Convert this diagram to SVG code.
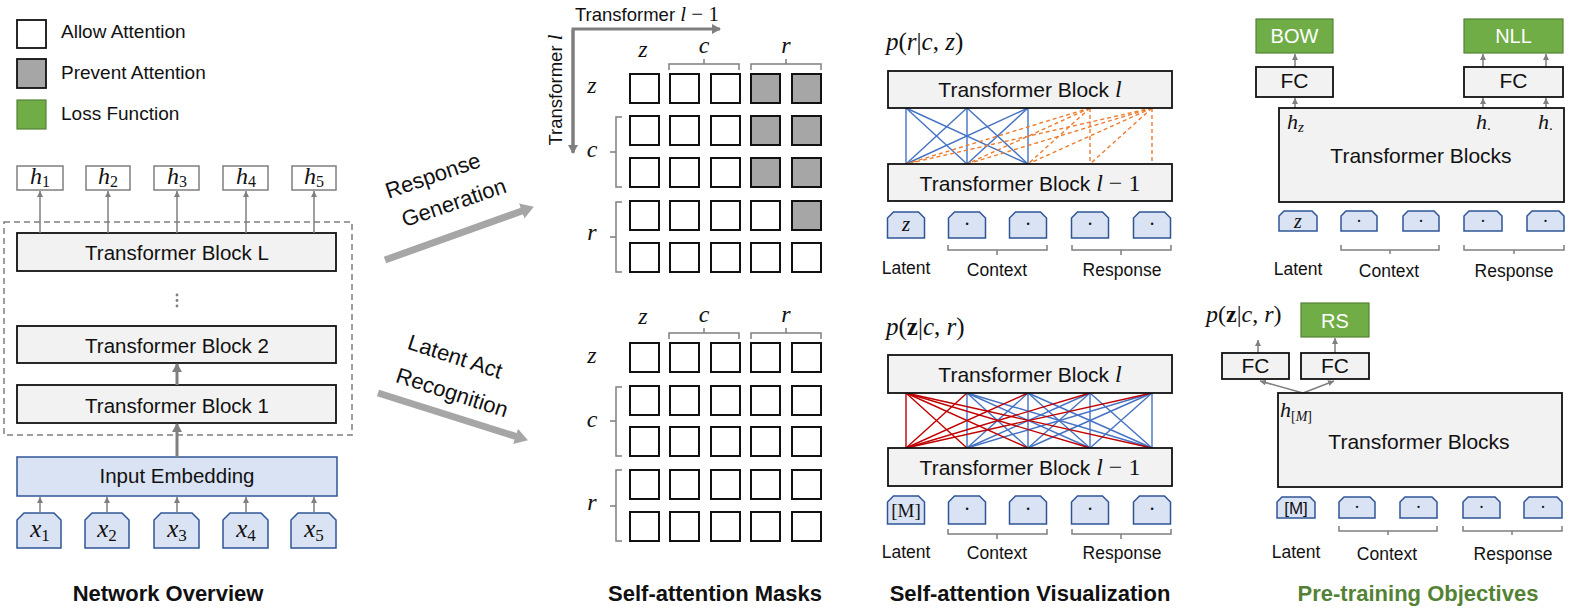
<svg xmlns="http://www.w3.org/2000/svg" width="1578" height="610" viewBox="0 0 1578 610">
<style>
.sans{font-family:"Liberation Sans",Arial,sans-serif;fill:#111}
.bold{font-weight:bold}
.math{font-family:"Liberation Serif","Times New Roman",serif;fill:#111}
.it{font-style:italic}
.blk{fill:#f2f2f2;stroke:#111;stroke-width:1.8}
.tok{fill:#dae3f3;stroke:#2f5597;stroke-width:1.5}
.cell{fill:#fff;stroke:#111;stroke-width:2}
.gray{fill:#a6a6a6}
.hb{fill:#fff;stroke:#7f7f7f;stroke-width:1.5}
.brk{fill:none;stroke:#7f7f7f;stroke-width:1.5}
.green{fill:#70ad47;stroke:#548235;stroke-width:1.2}
.wt{fill:#fff}
.arr{stroke:#7f7f7f;stroke-width:1.5;fill:none;marker-end:url(#ahs)}
.arrm{stroke:#7f7f7f;stroke-width:3;fill:none;marker-end:url(#ahm)}
.big{stroke:#a6a6a6;stroke-width:7;fill:none;marker-end:url(#ahb)}
.bl{stroke:#4472c4;stroke-width:1.4}
.rd{stroke:#c00000;stroke-width:1.4}
.or{stroke:#ed7d31;stroke-width:1.4;stroke-dasharray:4 3}
</style>
<defs>
<marker id="ahs" markerUnits="userSpaceOnUse" markerWidth="8" markerHeight="8" refX="6" refY="3" orient="auto"><path d="M0,0 L6,3 L0,6 z" fill="#7f7f7f"/></marker>
<marker id="ahm" markerUnits="userSpaceOnUse" markerWidth="12" markerHeight="12" refX="8" refY="5" orient="auto"><path d="M0,0 L9,5 L0,10 z" fill="#7f7f7f"/></marker>
<marker id="ahb" markerUnits="userSpaceOnUse" markerWidth="16" markerHeight="18" refX="1" refY="8" orient="auto"><path d="M0,0 L13,8 L0,16 z" fill="#a6a6a6"/></marker>
</defs>

<!-- Legend -->
<g id="legend">
<rect x="17" y="20" width="29" height="28" fill="#fff" stroke="#111" stroke-width="1.8"/>
<rect x="17" y="59" width="29" height="29" fill="#a6a6a6" stroke="#111" stroke-width="1.8"/>
<rect x="17" y="100" width="29" height="29" class="green"/>
<text x="61" y="38" class="sans" font-size="19">Allow Attention</text>
<text x="61" y="79" class="sans" font-size="19">Prevent Attention</text>
<text x="61" y="120" class="sans" font-size="19">Loss Function</text>
</g>

<!-- Network overview -->
<g id="network-overview">
<rect x="4" y="222" width="348" height="213" fill="none" stroke="#7f7f7f" stroke-width="1.5" stroke-dasharray="6 4"/>
<g id="h-outputs">
<rect x="17" y="166" width="46" height="24" class="hb"/>
<rect x="86" y="166" width="44" height="24" class="hb"/>
<rect x="154" y="166" width="45" height="24" class="hb"/>
<rect x="223" y="166" width="45" height="24" class="hb"/>
<rect x="292" y="166" width="44" height="24" class="hb"/>
<text x="40" y="184" class="math" font-size="24" text-anchor="middle"><tspan class="it">h</tspan><tspan font-size="16" dy="3">1</tspan></text>
<text x="108" y="184" class="math" font-size="24" text-anchor="middle"><tspan class="it">h</tspan><tspan font-size="16" dy="3">2</tspan></text>
<text x="177" y="184" class="math" font-size="24" text-anchor="middle"><tspan class="it">h</tspan><tspan font-size="16" dy="3">3</tspan></text>
<text x="246" y="184" class="math" font-size="24" text-anchor="middle"><tspan class="it">h</tspan><tspan font-size="16" dy="3">4</tspan></text>
<text x="314" y="184" class="math" font-size="24" text-anchor="middle"><tspan class="it">h</tspan><tspan font-size="16" dy="3">5</tspan></text>
</g>
<g id="block-L"><rect x="17" y="233" width="319" height="38" class="blk"/><text x="177" y="260" class="sans" font-size="20.5" text-anchor="middle">Transformer Block L</text></g>
<g id="vdots" fill="#7f7f7f"><circle cx="177" cy="295" r="1.4"/><circle cx="177" cy="300.5" r="1.4"/><circle cx="177" cy="306" r="1.4"/></g>
<g id="block-2"><rect x="17" y="326" width="319" height="37" class="blk"/><text x="177" y="353" class="sans" font-size="20.5" text-anchor="middle">Transformer Block 2</text></g>
<g id="block-1"><rect x="17" y="385" width="319" height="38" class="blk"/><text x="177" y="413" class="sans" font-size="20.5" text-anchor="middle">Transformer Block 1</text></g>
<g id="input-embedding"><rect x="17" y="457" width="320" height="39" fill="#dae3f3" stroke="#2f5597" stroke-width="1.5"/><text x="177" y="483" class="sans" font-size="20.5" text-anchor="middle">Input Embedding</text></g>
<g id="x-inputs">
<path class="tok" d="M17,548 V520 L24,513 H54 L61,520 V548 Z"/>
<path class="tok" d="M85,548 V520 L92,513 H122 L129,520 V548 Z"/>
<path class="tok" d="M154,548 V520 L161,513 H192 L199,520 V548 Z"/>
<path class="tok" d="M223,548 V520 L230,513 H261 L268,520 V548 Z"/>
<path class="tok" d="M291,548 V520 L298,513 H329 L336,520 V548 Z"/>
<text x="40" y="537" class="math" font-size="25" text-anchor="middle"><tspan class="it">x</tspan><tspan font-size="17" dy="4">1</tspan></text>
<text x="107" y="537" class="math" font-size="25" text-anchor="middle"><tspan class="it">x</tspan><tspan font-size="17" dy="4">2</tspan></text>
<text x="177" y="537" class="math" font-size="25" text-anchor="middle"><tspan class="it">x</tspan><tspan font-size="17" dy="4">3</tspan></text>
<text x="246" y="537" class="math" font-size="25" text-anchor="middle"><tspan class="it">x</tspan><tspan font-size="17" dy="4">4</tspan></text>
<text x="314" y="537" class="math" font-size="25" text-anchor="middle"><tspan class="it">x</tspan><tspan font-size="17" dy="4">5</tspan></text>
</g>
<text x="168" y="601" class="sans bold" font-size="22" text-anchor="middle">Network Overview</text>
</g>

<!-- Middle task arrows labels -->
<g id="task-labels">
<text transform="translate(433,176) rotate(-19)" dy="7" class="sans" font-size="22" text-anchor="middle">Response</text>
<text transform="translate(454,203) rotate(-19)" dy="7" class="sans" font-size="22" text-anchor="middle">Generation</text>
<text transform="translate(455,357) rotate(18)" dy="7" class="sans" font-size="22" text-anchor="middle">Latent Act</text>
<text transform="translate(452,393) rotate(18)" dy="7" class="sans" font-size="22" text-anchor="middle">Recognition</text>
</g>

<!-- Self-attention masks -->
<g id="masks">
<text x="575" y="21" class="sans" font-size="18.5">Transformer <tspan class="math it" font-size="21">l</tspan><tspan class="math" font-size="21"> − 1</tspan></text>
<text transform="translate(562,90) rotate(-90)" class="sans" font-size="18.5" text-anchor="middle">Transformer <tspan class="math it" font-size="21">l</tspan></text>
<g id="mask-top">
<g class="math it" font-size="24" text-anchor="middle">
<text x="643" y="57">z</text><text x="704" y="53">c</text><text x="786" y="53">r</text>
<text x="592" y="93">z</text><text x="592" y="157">c</text><text x="592" y="240">r</text>
</g>
<path class="brk" d="M669,70 V64 H739 V70 M704,64 V59 M751,70 V64 H821 V70 M786,64 V59"/>
<path class="brk" d="M622,117 H616 V187 H622 M616,152 H610 M622,202 H616 V272 H622 M616,237 H610"/>
<rect class="cell" x="630" y="74" width="29" height="29"/><rect class="cell" x="670" y="74" width="29" height="29"/><rect class="cell" x="711" y="74" width="29" height="29"/><rect class="cell gray" x="751" y="74" width="29" height="29"/><rect class="cell gray" x="792" y="74" width="29" height="29"/>
<rect class="cell" x="630" y="116" width="29" height="29"/><rect class="cell" x="670" y="116" width="29" height="29"/><rect class="cell" x="711" y="116" width="29" height="29"/><rect class="cell gray" x="751" y="116" width="29" height="29"/><rect class="cell gray" x="792" y="116" width="29" height="29"/>
<rect class="cell" x="630" y="158" width="29" height="29"/><rect class="cell" x="670" y="158" width="29" height="29"/><rect class="cell" x="711" y="158" width="29" height="29"/><rect class="cell gray" x="751" y="158" width="29" height="29"/><rect class="cell gray" x="792" y="158" width="29" height="29"/>
<rect class="cell" x="630" y="201" width="29" height="29"/><rect class="cell" x="670" y="201" width="29" height="29"/><rect class="cell" x="711" y="201" width="29" height="29"/><rect class="cell" x="751" y="201" width="29" height="29"/><rect class="cell gray" x="792" y="201" width="29" height="29"/>
<rect class="cell" x="630" y="243" width="29" height="29"/><rect class="cell" x="670" y="243" width="29" height="29"/><rect class="cell" x="711" y="243" width="29" height="29"/><rect class="cell" x="751" y="243" width="29" height="29"/><rect class="cell" x="792" y="243" width="29" height="29"/>
</g>
<g id="mask-bottom">
<g class="math it" font-size="24" text-anchor="middle">
<text x="643" y="324">z</text><text x="704" y="322">c</text><text x="786" y="322">r</text>
<text x="592" y="363">z</text><text x="592" y="427">c</text><text x="592" y="510">r</text>
</g>
<path class="brk" d="M669,339 V333 H739 V339 M704,333 V328 M751,339 V333 H821 V339 M786,333 V328"/>
<path class="brk" d="M622,387 H616 V456 H622 M616,421 H610 M622,470 H616 V541 H622 M616,506 H610"/>
<rect class="cell" x="630" y="343" width="29" height="29"/><rect class="cell" x="670" y="343" width="29" height="29"/><rect class="cell" x="711" y="343" width="29" height="29"/><rect class="cell" x="751" y="343" width="29" height="29"/><rect class="cell" x="792" y="343" width="29" height="29"/>
<rect class="cell" x="630" y="386" width="29" height="29"/><rect class="cell" x="670" y="386" width="29" height="29"/><rect class="cell" x="711" y="386" width="29" height="29"/><rect class="cell" x="751" y="386" width="29" height="29"/><rect class="cell" x="792" y="386" width="29" height="29"/>
<rect class="cell" x="630" y="427" width="29" height="29"/><rect class="cell" x="670" y="427" width="29" height="29"/><rect class="cell" x="711" y="427" width="29" height="29"/><rect class="cell" x="751" y="427" width="29" height="29"/><rect class="cell" x="792" y="427" width="29" height="29"/>
<rect class="cell" x="630" y="470" width="29" height="29"/><rect class="cell" x="670" y="470" width="29" height="29"/><rect class="cell" x="711" y="470" width="29" height="29"/><rect class="cell" x="751" y="470" width="29" height="29"/><rect class="cell" x="792" y="470" width="29" height="29"/>
<rect class="cell" x="630" y="512" width="29" height="29"/><rect class="cell" x="670" y="512" width="29" height="29"/><rect class="cell" x="711" y="512" width="29" height="29"/><rect class="cell" x="751" y="512" width="29" height="29"/><rect class="cell" x="792" y="512" width="29" height="29"/>
</g>
<text x="715" y="601" class="sans bold" font-size="22" text-anchor="middle">Self-attention Masks</text>
</g>

<!-- Connectors -->
<g id="connectors">
<line class="arr" x1="40" y1="233" x2="40" y2="191"/>
<line class="arr" x1="108" y1="233" x2="108" y2="191"/>
<line class="arr" x1="177" y1="233" x2="177" y2="191"/>
<line class="arr" x1="246" y1="233" x2="246" y2="191"/>
<line class="arr" x1="314" y1="233" x2="314" y2="191"/>
<line class="arrm" x1="177" y1="385" x2="177" y2="364"/>
<line class="arrm" x1="177" y1="457" x2="177" y2="424"/>
<line class="arr" x1="40" y1="513" x2="40" y2="497"/>
<line class="arr" x1="107" y1="513" x2="107" y2="497"/>
<line class="arr" x1="177" y1="513" x2="177" y2="497"/>
<line class="arr" x1="246" y1="513" x2="246" y2="497"/>
<line class="arr" x1="314" y1="513" x2="314" y2="497"/>
<line class="big" x1="385" y1="260" x2="522.6" y2="210.7"/>
<line class="big" x1="378" y1="393" x2="516.5" y2="436.7"/>
<polyline class="arrm" points="573,152 573,29 720,29"/>
<line class="arrm" x1="573" y1="30" x2="573" y2="153"/>
<!-- viz top: blue bidirectional among z,c -->
<g class="bl">
<line x1="906" y1="108" x2="906" y2="164"/><line x1="906" y1="108" x2="967" y2="164"/><line x1="906" y1="108" x2="1028" y2="164"/>
<line x1="967" y1="108" x2="906" y2="164"/><line x1="967" y1="108" x2="967" y2="164"/><line x1="967" y1="108" x2="1028" y2="164"/>
<line x1="1028" y1="108" x2="906" y2="164"/><line x1="1028" y1="108" x2="967" y2="164"/><line x1="1028" y1="108" x2="1028" y2="164"/>
</g>
<g class="or">
<line x1="1090" y1="108" x2="906" y2="164"/><line x1="1090" y1="108" x2="967" y2="164"/><line x1="1090" y1="108" x2="1028" y2="164"/><line x1="1090" y1="108" x2="1090" y2="164"/>
<line x1="1152" y1="108" x2="906" y2="164"/><line x1="1152" y1="108" x2="967" y2="164"/><line x1="1152" y1="108" x2="1028" y2="164"/><line x1="1152" y1="108" x2="1090" y2="164"/><line x1="1152" y1="108" x2="1152" y2="164"/>
</g>
<!-- viz bottom -->
<g class="bl">
<line x1="967" y1="393" x2="967" y2="448"/><line x1="967" y1="393" x2="1028" y2="448"/><line x1="967" y1="393" x2="1090" y2="448"/><line x1="967" y1="393" x2="1152" y2="448"/>
<line x1="1028" y1="393" x2="967" y2="448"/><line x1="1028" y1="393" x2="1028" y2="448"/><line x1="1028" y1="393" x2="1090" y2="448"/><line x1="1028" y1="393" x2="1152" y2="448"/>
<line x1="1090" y1="393" x2="967" y2="448"/><line x1="1090" y1="393" x2="1028" y2="448"/><line x1="1090" y1="393" x2="1090" y2="448"/><line x1="1090" y1="393" x2="1152" y2="448"/>
<line x1="1152" y1="393" x2="967" y2="448"/><line x1="1152" y1="393" x2="1028" y2="448"/><line x1="1152" y1="393" x2="1090" y2="448"/><line x1="1152" y1="393" x2="1152" y2="448"/>
</g>
<g class="rd">
<line x1="906" y1="393" x2="906" y2="448"/><line x1="906" y1="393" x2="967" y2="448"/><line x1="906" y1="393" x2="1028" y2="448"/><line x1="906" y1="393" x2="1090" y2="448"/><line x1="906" y1="393" x2="1152" y2="448"/>
<line x1="967" y1="393" x2="906" y2="448"/><line x1="1028" y1="393" x2="906" y2="448"/><line x1="1090" y1="393" x2="906" y2="448"/><line x1="1152" y1="393" x2="906" y2="448"/>
</g>
<!-- objectives -->
<line class="arr" x1="1295" y1="108" x2="1295" y2="98"/>
<line class="arr" x1="1295" y1="67" x2="1295" y2="54"/>
<line class="arr" x1="1483" y1="108" x2="1483" y2="98"/>
<line class="arr" x1="1546" y1="108" x2="1546" y2="98"/>
<line class="arr" x1="1483" y1="67" x2="1483" y2="54"/>
<line class="arr" x1="1546" y1="67" x2="1546" y2="54"/>
<line class="arr" x1="1303" y1="393" x2="1260" y2="381"/>
<line class="arr" x1="1303" y1="393" x2="1334" y2="381"/>
<line class="arr" x1="1258" y1="353" x2="1258" y2="340"/>
<line class="arr" x1="1335" y1="353" x2="1335" y2="338"/>
</g>

<!-- Self-attention visualization -->
<g id="viz-top">
<text x="886" y="50" class="math" font-size="25"><tspan class="it">p</tspan>(<tspan class="it">r</tspan>|<tspan class="it">c</tspan>, <tspan class="it">z</tspan>)</text>
<rect x="888" y="71" width="284" height="37" class="blk"/>
<text x="1030" y="97" class="sans" font-size="21" text-anchor="middle">Transformer Block <tspan class="math it" font-size="24">l</tspan></text>
<rect x="888" y="164" width="284" height="37" class="blk"/>
<text x="1030" y="191" class="sans" font-size="21" text-anchor="middle">Transformer Block <tspan class="math it" font-size="24">l</tspan><tspan class="math" font-size="24"> − 1</tspan></text>
<path class="tok" d="M887.5,238 V218 L893.5,212 H918.5 L924.5,218 V238 Z"/>
<path class="tok" d="M948.5,238 V218 L954.5,212 H979.5 L985.5,218 V238 Z"/>
<path class="tok" d="M1009.5,238 V218 L1015.5,212 H1040.5 L1046.5,218 V238 Z"/>
<path class="tok" d="M1071.5,238 V218 L1077.5,212 H1102.5 L1108.5,218 V238 Z"/>
<path class="tok" d="M1133.5,238 V218 L1139.5,212 H1164.5 L1170.5,218 V238 Z"/>
<text x="906" y="231" class="math it" font-size="21" text-anchor="middle">z</text>
<g class="math" font-size="20" text-anchor="middle"><text x="967" y="231">·</text><text x="1028" y="231">·</text><text x="1090" y="231">·</text><text x="1152" y="231">·</text></g>
<path class="brk" d="M948,245 V250 H1047 V245 M997,250 V255 M1072,245 V250 H1171 V245 M1121,250 V255"/>
<g class="sans" font-size="17.5" text-anchor="middle"><text x="906" y="274">Latent</text><text x="997" y="276">Context</text><text x="1122" y="276">Response</text></g>
</g>
<g id="viz-bottom">
<text x="886" y="335" class="math" font-size="25"><tspan class="it">p</tspan>(<tspan font-weight="bold">z</tspan>|<tspan class="it">c</tspan>, <tspan class="it">r</tspan>)</text>
<rect x="888" y="355" width="284" height="38" class="blk"/>
<text x="1030" y="382" class="sans" font-size="21" text-anchor="middle">Transformer Block <tspan class="math it" font-size="24">l</tspan></text>
<rect x="888" y="448" width="284" height="38" class="blk"/>
<text x="1030" y="475" class="sans" font-size="21" text-anchor="middle">Transformer Block <tspan class="math it" font-size="24">l</tspan><tspan class="math" font-size="24"> − 1</tspan></text>
<path class="tok" d="M887.5,524 V502 L893.5,496 H918.5 L924.5,502 V524 Z"/>
<path class="tok" d="M948.5,524 V502 L954.5,496 H979.5 L985.5,502 V524 Z"/>
<path class="tok" d="M1009.5,524 V502 L1015.5,496 H1040.5 L1046.5,502 V524 Z"/>
<path class="tok" d="M1071.5,524 V502 L1077.5,496 H1102.5 L1108.5,502 V524 Z"/>
<path class="tok" d="M1133.5,524 V502 L1139.5,496 H1164.5 L1170.5,502 V524 Z"/>
<text x="906" y="517" class="math" font-size="19" text-anchor="middle">[M]</text>
<g class="math" font-size="20" text-anchor="middle"><text x="967" y="516">·</text><text x="1028" y="516">·</text><text x="1090" y="516">·</text><text x="1152" y="516">·</text></g>
<path class="brk" d="M948,529 V534 H1047 V529 M997,534 V539 M1072,529 V534 H1171 V529 M1121,534 V539"/>
<g class="sans" font-size="17.5" text-anchor="middle"><text x="906" y="558">Latent</text><text x="997" y="559">Context</text><text x="1122" y="559">Response</text></g>
<text x="1030" y="601" class="sans bold" font-size="22" text-anchor="middle">Self-attention Visualization</text>
</g>

<!-- Pre-training objectives -->
<g id="obj-top">
<rect x="1256" y="19" width="77" height="34" class="green"/>
<text x="1294.5" y="43" class="sans wt" font-size="20" text-anchor="middle">BOW</text>
<rect x="1464" y="19" width="99" height="34" class="green"/>
<text x="1513.5" y="43" class="sans wt" font-size="20" text-anchor="middle">NLL</text>
<rect x="1256" y="67" width="77" height="30" class="blk"/>
<text x="1294.5" y="88" class="sans" font-size="21" text-anchor="middle">FC</text>
<rect x="1464" y="67" width="99" height="30" class="blk"/>
<text x="1513.5" y="88" class="sans" font-size="21" text-anchor="middle">FC</text>
<rect x="1279" y="108" width="285" height="94" class="blk"/>
<text x="1287" y="129" class="math" font-size="22"><tspan class="it">h</tspan><tspan class="it" font-size="15" dy="3">z</tspan></text>
<text x="1476" y="129" class="math" font-size="22"><tspan class="it">h</tspan><tspan font-size="15" dy="1">.</tspan></text>
<text x="1538" y="129" class="math" font-size="22"><tspan class="it">h</tspan><tspan font-size="15" dy="1">.</tspan></text>
<text x="1421" y="163" class="sans" font-size="21" text-anchor="middle">Transformer Blocks</text>
<path class="tok" d="M1279,231 V216 L1284,211 H1312 L1317,216 V231 Z"/>
<path class="tok" d="M1341,231 V216 L1346,211 H1372 L1377,216 V231 Z"/>
<path class="tok" d="M1403,231 V216 L1408,211 H1434 L1439,216 V231 Z"/>
<path class="tok" d="M1464,231 V216 L1469,211 H1497 L1502,216 V231 Z"/>
<path class="tok" d="M1527,231 V216 L1532,211 H1559 L1564,216 V231 Z"/>
<text x="1298" y="228" class="math it" font-size="20" text-anchor="middle">z</text>
<g class="math" font-size="18" text-anchor="middle"><text x="1359" y="227">·</text><text x="1421" y="227">·</text><text x="1483" y="227">·</text><text x="1545.5" y="227">·</text></g>
<path class="brk" d="M1341,245 V250 H1439 V245 M1390,250 V254 M1464,245 V250 H1564 V245 M1514,250 V254"/>
<g class="sans" font-size="17.5" text-anchor="middle"><text x="1298" y="275">Latent</text><text x="1389" y="277">Context</text><text x="1514" y="277">Response</text></g>
</g>
<g id="obj-bottom">
<text x="1206" y="322" class="math" font-size="24"><tspan class="it">p</tspan>(<tspan font-weight="bold">z</tspan>|<tspan class="it">c</tspan>, <tspan class="it">r</tspan>)</text>
<rect x="1301" y="303" width="68" height="34" class="green"/>
<text x="1335" y="328" class="sans wt" font-size="20" text-anchor="middle">RS</text>
<rect x="1222" y="353" width="67" height="26" class="blk"/>
<text x="1255.5" y="373" class="sans" font-size="21" text-anchor="middle">FC</text>
<rect x="1301" y="353" width="68" height="26" class="blk"/>
<text x="1335" y="373" class="sans" font-size="21" text-anchor="middle">FC</text>
<rect x="1278" y="393" width="284" height="94" class="blk"/>
<text x="1280" y="417" class="math" font-size="22"><tspan class="it">h</tspan><tspan font-size="14" dy="4">[<tspan class="it">M</tspan>]</tspan></text>
<text x="1419" y="449" class="sans" font-size="21" text-anchor="middle">Transformer Blocks</text>
<path class="tok" d="M1277,518 V502 L1282,497 H1310 L1315,502 V518 Z"/>
<path class="tok" d="M1339,518 V502 L1344,497 H1370 L1375,502 V518 Z"/>
<path class="tok" d="M1400,518 V502 L1405,497 H1432 L1437,502 V518 Z"/>
<path class="tok" d="M1463,518 V502 L1468,497 H1495 L1500,502 V518 Z"/>
<path class="tok" d="M1524,518 V502 L1529,497 H1557 L1562,502 V518 Z"/>
<text x="1296" y="514" class="sans" font-size="17" text-anchor="middle">[M]</text>
<g class="math" font-size="18" text-anchor="middle"><text x="1357" y="513">·</text><text x="1418.5" y="513">·</text><text x="1481.5" y="513">·</text><text x="1543" y="513">·</text></g>
<path class="brk" d="M1339,526 V531 H1437 V526 M1388,531 V535 M1463,526 V531 H1562 V526 M1512,531 V535"/>
<g class="sans" font-size="17.5" text-anchor="middle"><text x="1296" y="558">Latent</text><text x="1387" y="560">Context</text><text x="1513" y="560">Response</text></g>
<text x="1418" y="601" class="sans bold" font-size="22" text-anchor="middle" style="fill:#548235">Pre-training Objectives</text>
</g>
</svg>
